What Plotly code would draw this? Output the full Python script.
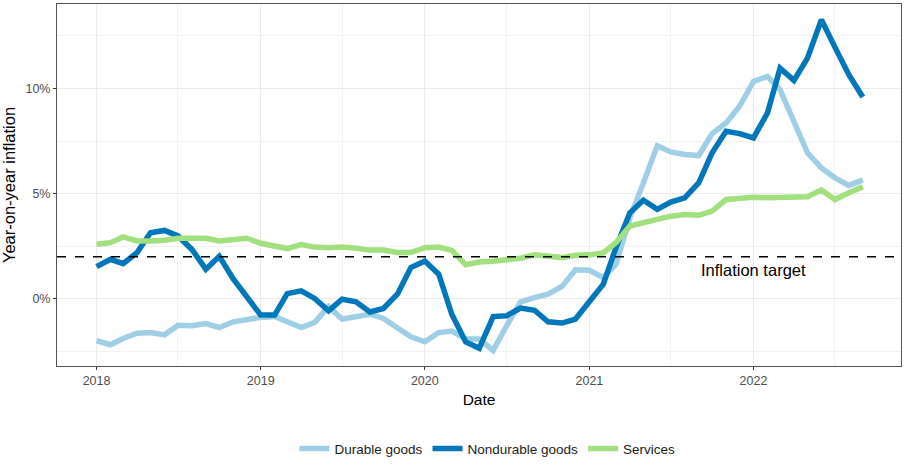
import pandas as pd
import plotly.graph_objects as go

dates = pd.date_range("2018-01-01", "2022-09-01", freq="MS")

durable = [-1.99, -2.18, -1.88, -1.63, -1.60, -1.71, -1.25, -1.28, -1.17, -1.36, -1.09, -0.96,
           -0.88, -0.84, -1.12, -1.36, -1.12, -0.36, -0.96, -0.85, -0.73, -0.93, -1.36, -1.80,
           -2.04, -1.60, -1.53, -1.91, -1.91, -2.45, -1.28, -0.14, 0.06, 0.22, 0.59, 1.38,
           1.36, 1.01, 1.64, 3.85, 5.51, 7.28, 6.98, 6.86, 6.81, 7.85, 8.36, 9.15,
           10.33, 10.57, 9.94, 8.36, 6.94, 6.22, 5.75, 5.39, 5.64]

nondurable = [1.53, 1.88, 1.67, 2.20, 3.14, 3.25, 2.99, 2.35, 1.41, 2.02, 0.95, 0.10,
              -0.77, -0.77, 0.25, 0.38, 0.02, -0.57, -0.02, -0.14, -0.62, -0.46, 0.22, 1.49,
              1.80, 1.17, -0.73, -2.05, -2.35, -0.84, -0.80, -0.44, -0.54, -1.09, -1.15, -0.96,
              -0.14, 0.70, 2.43, 4.09, 4.69, 4.25, 4.60, 4.80, 5.51, 6.94, 7.96, 7.85,
              7.65, 8.83, 10.96, 10.38, 11.44, 13.26, 11.96, 10.65, 9.59]

services = [2.59, 2.67, 2.94, 2.75, 2.75, 2.78, 2.88, 2.88, 2.88, 2.75, 2.80, 2.88,
            2.64, 2.48, 2.39, 2.58, 2.46, 2.43, 2.46, 2.40, 2.32, 2.32, 2.20, 2.20,
            2.43, 2.46, 2.30, 1.62, 1.75, 1.79, 1.83, 1.93, 2.09, 2.01, 1.96, 2.07,
            2.09, 2.18, 2.67, 3.46, 3.59, 3.78, 3.93, 4.01, 3.97, 4.17, 4.72, 4.79,
            4.83, 4.80, 4.80, 4.79, 4.85, 5.17, 4.72, 5.04, 5.32]

series_names = ["Durable goods", "Nondurable goods", "Services"]
series_colors = ["#9ECFE6", "#0077BB", "#A1E07E"]
target = 2.0
x_ticks = ["2018-01-01", "2019-01-01", "2020-01-01", "2021-01-01", "2022-01-01"]
x_labels = ["2018", "2019", "2020", "2021", "2022"]
y_ticks = [0, 5, 10]
y_labels = ["0%", "5%", "10%"]

fig = go.Figure()
for name, vals, col in zip(series_names, [durable, nondurable, services], series_colors):
    fig.add_trace(go.Scatter(x=dates, y=vals, mode="lines", name=name,
                             line=dict(color=col, width=5.5)))

fig.add_hline(y=target, line=dict(color="black", dash="dash", width=1.5))
fig.add_annotation(x="2022-01-01", y=target, yshift=-13, text="Inflation target",
                   showarrow=False, font=dict(size=16.5, color="black"))

axis_common = dict(showline=True, linecolor="#555555", linewidth=1, mirror=True,
                   ticks="outside", ticklen=3, tickcolor="#333333",
                   tickfont=dict(size=12.5, color="#4D4D4D"),
                   showgrid=True, gridcolor="#EBEBEB", gridwidth=1.1, zeroline=False)

fig.update_xaxes(**axis_common, range=["2017-10-05", "2022-11-25"],
                 tickvals=x_ticks, ticktext=x_labels,
                 minor=dict(dtick="M6", tick0="2018-01-01", showgrid=True,
                            gridcolor="#F2F2F2", gridwidth=0.6, ticks=""),
                 title=dict(text="Date", font=dict(size=15.5, color="black"), standoff=7))
fig.update_yaxes(**axis_common, range=[-3.19, 14.01],
                 tickvals=y_ticks, ticktext=y_labels,
                 minor=dict(dtick=5, tick0=2.5, showgrid=True,
                            gridcolor="#F2F2F2", gridwidth=0.6, ticks=""),
                 title=dict(text="Year-on-year inflation", font=dict(size=16.5, color="black"),
                            standoff=5))

fig.update_layout(
    width=907, height=467,
    margin=dict(l=57, r=6, t=4, b=100),
    plot_bgcolor="white", paper_bgcolor="white",
    font=dict(family="Liberation Sans, Arial, sans-serif"),
    legend=dict(orientation="h", x=0.51, xanchor="center", y=-0.225, yanchor="middle",
                font=dict(size=13.5, color="#1A1A1A"), itemwidth=30,
                traceorder="normal"),
)

fig.write_html("out.html")
